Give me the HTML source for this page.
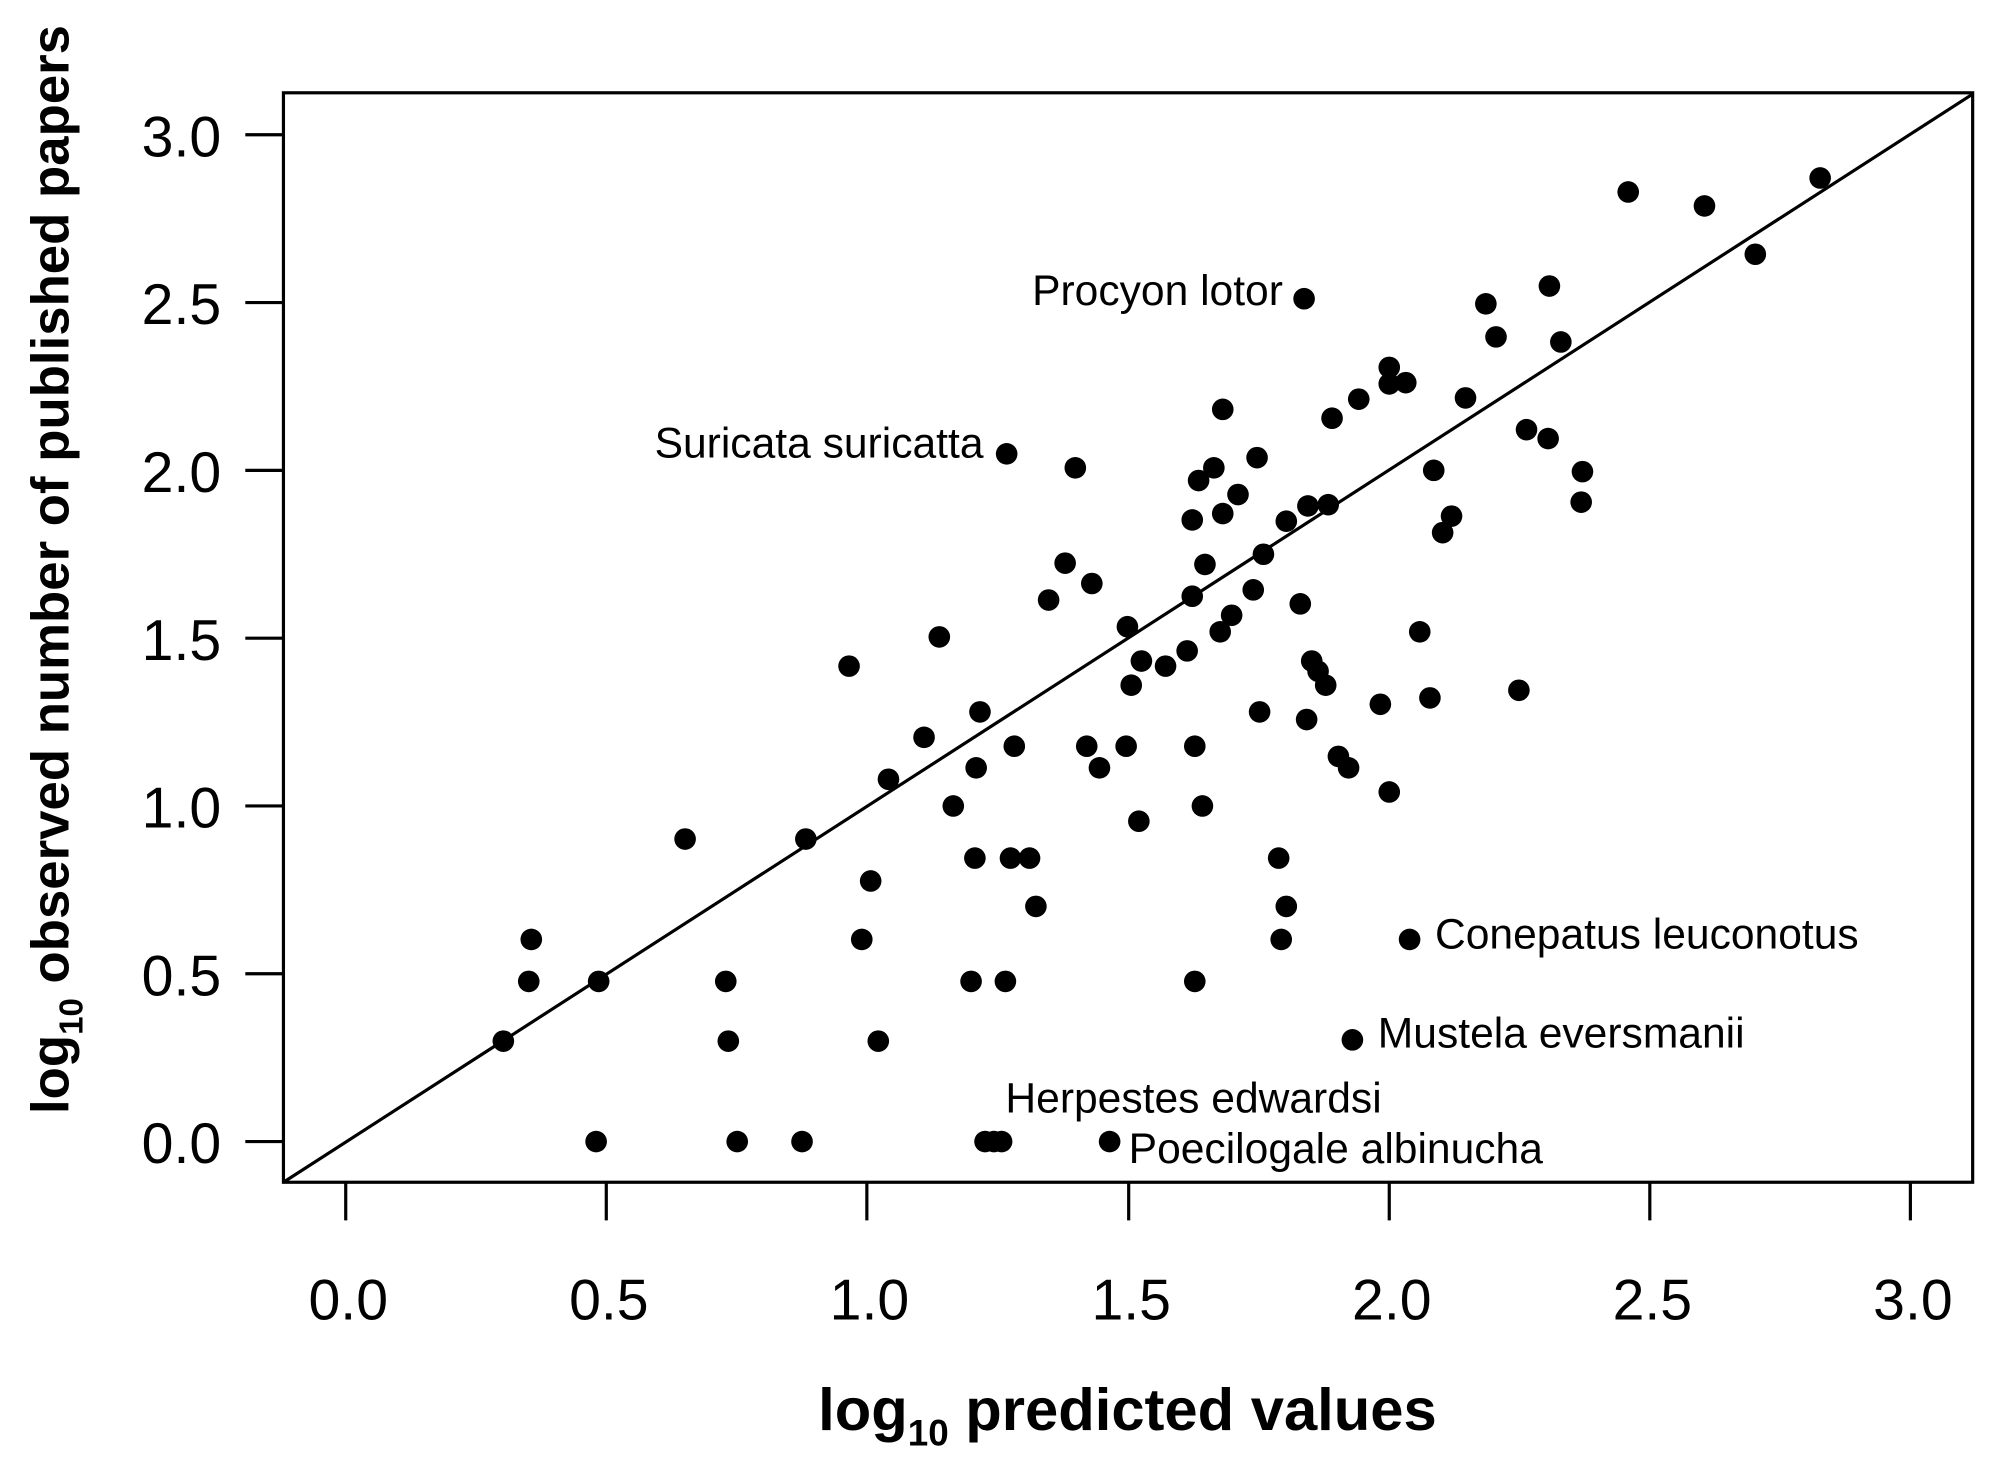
<!DOCTYPE html>
<html><head><meta charset="utf-8"><style>html,body{margin:0;padding:0;background:#fff}svg{display:block}</style></head>
<body>
<svg width="1993" height="1467" viewBox="0 0 1568 1154" preserveAspectRatio="none" xmlns="http://www.w3.org/2000/svg" font-family="Liberation Sans, Arial, sans-serif">
<rect width="1568" height="1154" fill="#fff"/>
<rect x="223" y="73" width="1329" height="857" fill="none" stroke="#000" stroke-width="2.5"/>
<line x1="223" y1="930" x2="1552" y2="74" stroke="#000" stroke-width="2.5"/>
<g stroke="#000" stroke-width="2.5">
<line x1="272" y1="930" x2="272" y2="960"/><line x1="477" y1="930" x2="477" y2="960"/><line x1="682" y1="930" x2="682" y2="960"/><line x1="888" y1="930" x2="888" y2="960"/><line x1="1093" y1="930" x2="1093" y2="960"/><line x1="1298" y1="930" x2="1298" y2="960"/><line x1="1503" y1="930" x2="1503" y2="960"/>
<line x1="223" y1="898" x2="193" y2="898"/><line x1="223" y1="766" x2="193" y2="766"/><line x1="223" y1="634" x2="193" y2="634"/><line x1="223" y1="502" x2="193" y2="502"/><line x1="223" y1="370" x2="193" y2="370"/><line x1="223" y1="238" x2="193" y2="238"/><line x1="223" y1="106" x2="193" y2="106"/>
</g>
<g font-size="45" text-anchor="middle">
<text x="274" y="1038">0.0</text><text x="479" y="1038">0.5</text><text x="684" y="1038">1.0</text><text x="890" y="1038">1.5</text><text x="1095" y="1038">2.0</text><text x="1300" y="1038">2.5</text><text x="1505" y="1038">3.0</text>
</g>
<g font-size="45" text-anchor="end">
<text x="174" y="915">0.0</text><text x="174" y="783">0.5</text><text x="174" y="651">1.0</text><text x="174" y="519">1.5</text><text x="174" y="387">2.0</text><text x="174" y="255">2.5</text><text x="174" y="123">3.0</text>
</g>
<text x="887" y="1125" font-size="47" font-weight="bold" text-anchor="middle">log<tspan font-size="29" dy="12">10</tspan><tspan dy="-12"> predicted values</tspan></text>
<text transform="translate(54,448) rotate(-90)" font-size="41.5" font-weight="bold" text-anchor="middle">log<tspan font-size="26" dy="11">10</tspan><tspan dy="-11"> observed number of published papers</tspan></text>
<g font-size="33.5">
<text x="812" y="240">Procyon lotor</text>
<text x="515" y="360">Suricata suricatta</text>
<text x="1129" y="746">Conepatus leuconotus</text>
<text x="1084" y="824">Mustela eversmanii</text>
<text x="791" y="875">Herpestes edwardsi</text>
<text x="888" y="915">Poecilogale albinucha</text>
</g>
<g fill="#000">
<circle cx="396" cy="819" r="8.5"/><circle cx="416" cy="772" r="8.5"/><circle cx="418" cy="739" r="8.5"/><circle cx="471" cy="772" r="8.5"/><circle cx="469" cy="898" r="8.5"/><circle cx="539" cy="660" r="8.5"/><circle cx="571" cy="772" r="8.5"/><circle cx="573" cy="819" r="8.5"/><circle cx="580" cy="898" r="8.5"/><circle cx="631" cy="898" r="8.5"/><circle cx="634" cy="660" r="8.5"/><circle cx="668" cy="524" r="8.5"/><circle cx="678" cy="739" r="8.5"/><circle cx="685" cy="693" r="8.5"/><circle cx="691" cy="819" r="8.5"/><circle cx="699" cy="613" r="8.5"/><circle cx="727" cy="580" r="8.5"/><circle cx="739" cy="501" r="8.5"/><circle cx="750" cy="634" r="8.5"/><circle cx="767" cy="675" r="8.5"/><circle cx="768" cy="604" r="8.5"/><circle cx="771" cy="560" r="8.5"/><circle cx="764" cy="772" r="8.5"/><circle cx="775" cy="898" r="8.5"/><circle cx="782" cy="898" r="8.5"/><circle cx="788" cy="898" r="8.5"/><circle cx="791" cy="772" r="8.5"/><circle cx="792" cy="357" r="8.5"/><circle cx="795" cy="675" r="8.5"/><circle cx="798" cy="587" r="8.5"/><circle cx="810" cy="675" r="8.5"/><circle cx="815" cy="713" r="8.5"/><circle cx="825" cy="472" r="8.5"/><circle cx="838" cy="443" r="8.5"/><circle cx="846" cy="368" r="8.5"/><circle cx="855" cy="587" r="8.5"/><circle cx="859" cy="459" r="8.5"/><circle cx="865" cy="604" r="8.5"/><circle cx="873" cy="898" r="8.5"/><circle cx="886" cy="587" r="8.5"/><circle cx="887" cy="493" r="8.5"/><circle cx="890" cy="539" r="8.5"/><circle cx="896" cy="646" r="8.5"/><circle cx="898" cy="520" r="8.5"/><circle cx="917" cy="524" r="8.5"/><circle cx="934" cy="512" r="8.5"/><circle cx="938" cy="409" r="8.5"/><circle cx="938" cy="469" r="8.5"/><circle cx="940" cy="587" r="8.5"/><circle cx="940" cy="772" r="8.5"/><circle cx="943" cy="378" r="8.5"/><circle cx="946" cy="634" r="8.5"/><circle cx="948" cy="444" r="8.5"/><circle cx="955" cy="368" r="8.5"/><circle cx="960" cy="497" r="8.5"/><circle cx="962" cy="322" r="8.5"/><circle cx="962" cy="404" r="8.5"/><circle cx="969" cy="484" r="8.5"/><circle cx="974" cy="389" r="8.5"/><circle cx="986" cy="464" r="8.5"/><circle cx="989" cy="360" r="8.5"/><circle cx="991" cy="560" r="8.5"/><circle cx="994" cy="436" r="8.5"/><circle cx="1006" cy="675" r="8.5"/><circle cx="1012" cy="713" r="8.5"/><circle cx="1008" cy="739" r="8.5"/><circle cx="1012" cy="410" r="8.5"/><circle cx="1023" cy="475" r="8.5"/><circle cx="1026" cy="235" r="8.5"/><circle cx="1028" cy="566" r="8.5"/><circle cx="1029" cy="398" r="8.5"/><circle cx="1032" cy="520" r="8.5"/><circle cx="1037" cy="528" r="8.5"/><circle cx="1043" cy="539" r="8.5"/><circle cx="1045" cy="397" r="8.5"/><circle cx="1048" cy="329" r="8.5"/><circle cx="1053" cy="595" r="8.5"/><circle cx="1061" cy="604" r="8.5"/><circle cx="1064" cy="818" r="8.5"/><circle cx="1069" cy="314" r="8.5"/><circle cx="1086" cy="554" r="8.5"/><circle cx="1093" cy="289" r="8.5"/><circle cx="1093" cy="302" r="8.5"/><circle cx="1093" cy="623" r="8.5"/><circle cx="1106" cy="301" r="8.5"/><circle cx="1109" cy="739" r="8.5"/><circle cx="1117" cy="497" r="8.5"/><circle cx="1125" cy="549" r="8.5"/><circle cx="1128" cy="370" r="8.5"/><circle cx="1135" cy="419" r="8.5"/><circle cx="1142" cy="406" r="8.5"/><circle cx="1153" cy="313" r="8.5"/><circle cx="1169" cy="239" r="8.5"/><circle cx="1177" cy="265" r="8.5"/><circle cx="1195" cy="543" r="8.5"/><circle cx="1201" cy="338" r="8.5"/><circle cx="1218" cy="345" r="8.5"/><circle cx="1219" cy="225" r="8.5"/><circle cx="1228" cy="269" r="8.5"/><circle cx="1245" cy="371" r="8.5"/><circle cx="1244" cy="395" r="8.5"/><circle cx="1281" cy="151" r="8.5"/><circle cx="1341" cy="162" r="8.5"/><circle cx="1381" cy="200" r="8.5"/><circle cx="1432" cy="140" r="8.5"/>
</g>
</svg>
</body></html>
